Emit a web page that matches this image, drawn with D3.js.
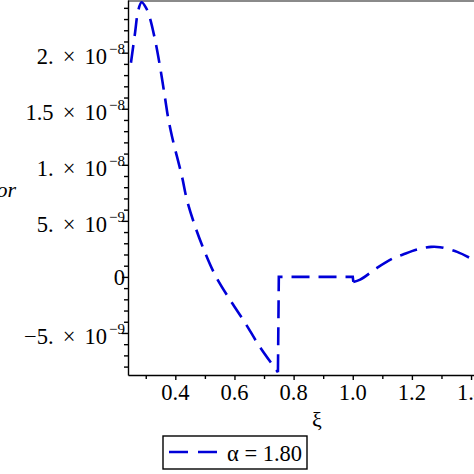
<!DOCTYPE html>
<html>
<head>
  <meta charset="utf-8">
  <title>Error vs xi</title>
  <script src="https://d3js.org/d3.v7.min.js"></script>
  <style>
    body { margin: 0; background: #fff; }
    svg text { font-family: "Liberation Serif", "Times New Roman", serif; fill: #000; }
    .axis path, .axis line { stroke: #000; stroke-width: 1.4; }
  </style>
</head>
<body>
<div id="chart"></div>
<script>
"use strict"

// curve values (error in units of 1e-9)
var xi  = [0.250, 0.264, 0.274, 0.286, 0.301, 0.314, 0.331, 0.348, 0.365, 0.375,
           0.389, 0.423, 0.439, 0.467, 0.494, 0.534, 0.585, 0.636, 0.686, 0.747,
           0.750, 1.000, 1.002, 1.025, 1.082, 1.136, 1.170, 1.200, 1.230, 1.265, 1.295, 1.353, 1.410];
var err = [19.1, 21.8, 23.7, 24.5, 24.0, 23.1, 21.2, 18.8, 16.0, 14.3,
           12.5, 8.9, 6.9, 4.5, 2.6, 0.2, -2.05, -4.1, -6.25, -8.5,
           0, 0, -0.45, -0.25, 0.8, 1.65, 2.0, 2.3, 2.52, 2.68, 2.65, 2.23, 1.5].map(v => v * 1e-9);

var xMajor = [0.4, 0.6, 0.8, 1.0, 1.2, 1.4];
var xMinor = [0.3, 0.5, 0.7, 0.9, 1.1, 1.3];
var xLabels = ["0.4", "0.6", "0.8", "1.0", "1.2", "1.4"];

var yMajor = [-5e-9, 0, 5e-9, 1e-8, 1.5e-8, 2e-8];
var yMant  = ["\u22125. \u00d7 10", "0", "5. \u00d7 10", "1. \u00d7 10", "1.5 \u00d7 10", "2. \u00d7 10"];
var yExp   = ["\u22129", "", "\u22129", "\u22128", "\u22128", "\u22128"];
var yMinor = d3.range(-8, 25).map(k => k * 1e-9).filter(v => Math.abs(v / 5e-9 - Math.round(v / 5e-9)) > 1e-6);

var legendLabel = "\u03b1 = 1.80";

var W = 474, H = 474;
var left = 128, bottom = 375;

var svg = d3.select("#chart").append("svg")
  .attr("width", W).attr("height", H);

var x = d3.scaleLinear().domain([0.24, 1.41]).range([left, W]);
var y = d3.scaleLinear().domain([-8.75e-9, 2.47e-8]).range([bottom, 0]);

// top frame edge (cut off)
svg.append("line")
  .attr("x1", left).attr("x2", W).attr("y1", 1).attr("y2", 1)
  .attr("stroke", "#8a8a8a").attr("stroke-width", 2.2);

// x axis
var gx = svg.append("g").attr("class", "axis")
  .attr("transform", "translate(0," + bottom + ")");
gx.call(d3.axisBottom(x).tickValues(xMajor).tickSize(5).tickSizeOuter(0).tickFormat(""));
gx.append("g").call(d3.axisBottom(x).tickValues(xMinor).tickSize(4).tickFormat(""))
  .select(".domain").remove();
gx.selectAll("line").attr("stroke", "#000");

svg.selectAll(".xlab").data(xMajor).enter().append("text")
  .attr("x", d => x(d)).attr("y", 400)
  .attr("text-anchor", "middle").style("font-size", "22.5px")
  .text((d, i) => xLabels[i]);

svg.append("text").attr("x", 317).attr("y", 427)
  .attr("text-anchor", "middle").style("font-size", "22px").text("\u03be");

// y axis
var gy = svg.append("g").attr("class", "axis")
  .attr("transform", "translate(" + left + ",0)");
gy.call(d3.axisLeft(y).tickValues(yMajor).tickSize(6).tickSizeOuter(0).tickFormat(""));
gy.append("g").call(d3.axisLeft(y).tickValues(yMinor).tickSize(4).tickFormat(""))
  .select(".domain").remove();
gy.selectAll("line").attr("stroke", "#000");

var ylab = svg.selectAll(".ylab").data(yMajor).enter().append("text")
  .attr("x", left - 3)
  .attr("y", (d, i) => y(d) + (yExp[i] ? 11 : 8))
  .attr("text-anchor", "end").style("font-size", "22.5px")
  .style("word-spacing", "3.5px");
ylab.append("tspan").text((d, i) => yMant[i]);
ylab.append("tspan").attr("dy", -10).attr("dx", 2).style("font-size", "15px")
  .text((d, i) => yExp[i]);

svg.append("text").attr("x", 16).attr("y", 197)
  .attr("text-anchor", "end").style("font-size", "22px").style("font-style", "italic")
  .text("Error");

// curve: smooth pieces joined by the straight jump at 0.75 and 1.0
var pts = xi.map((d, i) => [d, err[i]]);
var i1 = xi.indexOf(0.747), i2 = xi.indexOf(1.002);
var smooth = d3.line().x(d => x(d[0])).y(d => y(d[1])).curve(d3.curveCatmullRom.alpha(0.5));
var straight = d3.line().x(d => x(d[0])).y(d => y(d[1]));
var pieces = [
  [pts.slice(0, i1 + 1), smooth],
  [pts.slice(i1, i2 + 1), straight],
  [pts.slice(i2), smooth]
];

svg.selectAll(".curve").data(pieces).enter().append("path")
  .attr("d", p => p[1](p[0]))
  .attr("fill", "none")
  .attr("stroke", "#0000d8")
  .attr("stroke-width", 2.6)
  .attr("stroke-dasharray", "18,9");

// legend
var lg = svg.append("g");
lg.append("rect").attr("x", 163).attr("y", 436).attr("width", 144).attr("height", 33)
  .attr("fill", "#fff").attr("stroke", "#000").attr("stroke-width", 1.4);
lg.append("line").attr("x1", 169).attr("x2", 219).attr("y1", 452).attr("y2", 452)
  .attr("stroke", "#0000d8").attr("stroke-width", 2.6).attr("stroke-dasharray", "19,10");
lg.append("text").attr("x", 227).attr("y", 461).style("font-size", "22.5px").text(legendLabel);
</script>
</body>
</html>
